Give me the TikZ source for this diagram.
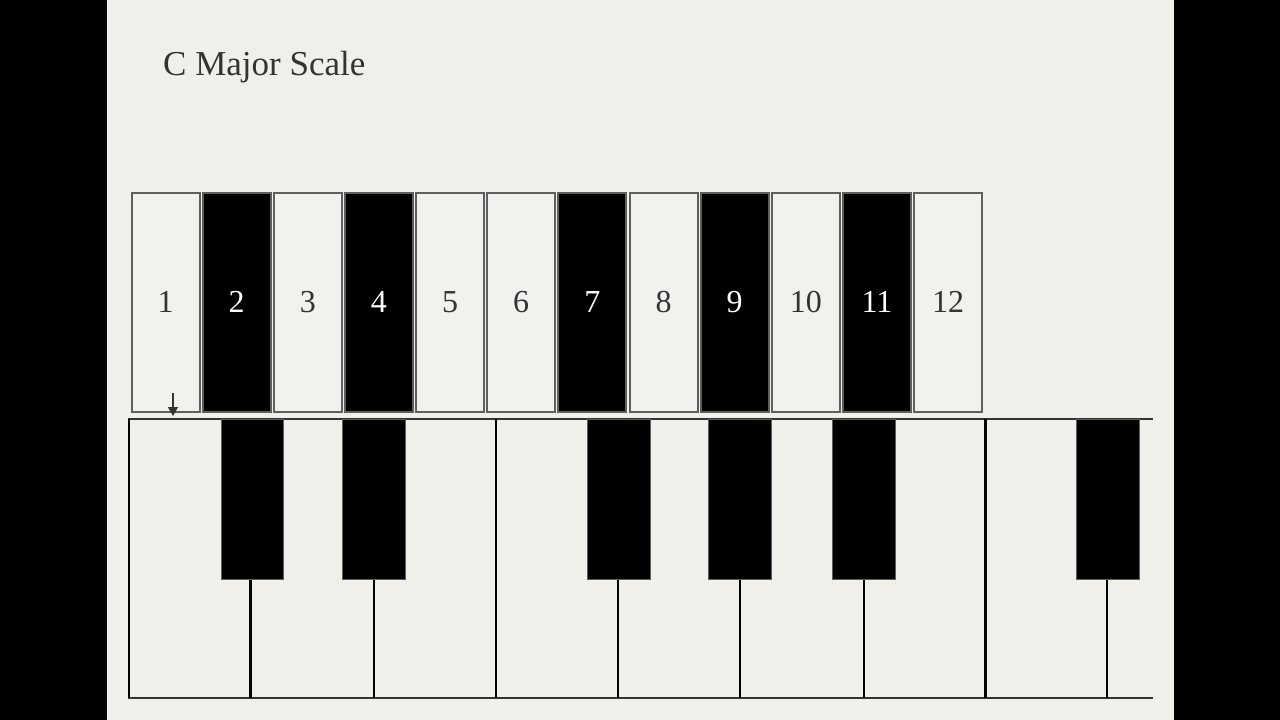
\documentclass[tikz,border=0pt]{standalone}
\usepackage{fontspec}
\setmainfont{Liberation Serif}
\usetikzlibrary{arrows.meta}
\definecolor{slide}{HTML}{F1EFEA}
\definecolor{cellfill}{HTML}{F3F1ED}
\definecolor{cellline}{HTML}{5E5E5E}
\definecolor{ink}{HTML}{333333}
\tikzset{
  cell/.style={draw=cellline, line width=2, minimum width=68, minimum height=219, inner sep=0, font=\fontsize{32}{40}\selectfont},
  whitecell/.style={cell, fill=cellfill, text=ink},
  blackcell/.style={cell, fill=black, text=white},
  keyline/.style={draw=ink, line width=2},
  keydivider/.style={draw=black, line width=2.6},
  blackkey/.style={draw=cellline, line width=1, fill=black},
}
\begin{document}
\begin{tikzpicture}[x=1pt, y=-1pt]
      \useasboundingbox (0,0) rectangle (1280,720);
      \fill[black] (0,0) rectangle (1280,720);
      \fill[slide] (107,0) rectangle (1174,720);
      \node[anchor=base west, inner sep=0, text=ink, font=\fontsize{35}{40}\selectfont] (title) at (163,75) {C Major Scale};
      % the twelve semitones
      \node[whitecell] (s1) at (165.5,302) {1};
      \node[blackcell] (s2) at (236.6,302) {2};
      \node[whitecell] (s3) at (307.8,302) {3};
      \node[blackcell] (s4) at (378.9,302) {4};
      \node[whitecell] (s5) at (450.1,302) {5};
      \node[whitecell] (s6) at (521.2,302) {6};
      \node[blackcell] (s7) at (592.3,302) {7};
      \node[whitecell] (s8) at (663.5,302) {8};
      \node[blackcell] (s9) at (734.6,302) {9};
      \node[whitecell] (s10) at (805.8,302) {10};
      \node[blackcell] (s11) at (876.9,302) {11};
      \node[whitecell] (s12) at (948,302) {12};
      % keyboard
      \draw[keyline] (128,419) -- (1153,419);
      \draw[keyline] (128,697.5) -- (1153,697.5);
      \draw[keydivider] (129,419) -- (129,697.5);
      \draw[keydivider] (250.5,419) -- (250.5,697.5);
      \draw[keydivider] (374,419) -- (374,697.5);
      \draw[keydivider] (496,419) -- (496,697.5);
      \draw[keydivider] (618,419) -- (618,697.5);
      \draw[keydivider] (740,419) -- (740,697.5);
      \draw[keydivider] (864,419) -- (864,697.5);
      \draw[keydivider] (985.5,419) -- (985.5,697.5);
      \draw[keydivider] (1107,419) -- (1107,697.5);
      \draw[blackkey] (221,419) rectangle (283,579);
      \draw[blackkey] (342.5,419) rectangle (405,579);
      \draw[blackkey] (587,419) rectangle (650,579);
      \draw[blackkey] (708.5,419) rectangle (771,579);
      \draw[blackkey] (832,419) rectangle (895,579);
      \draw[blackkey] (1076.5,419) rectangle (1139,579);
      % start note
      \coordinate (start) at (173,393);
      \coordinate (keytop) at (173,416);
      \draw[ink, line width=1.5, -{Triangle[length=9pt,width=10pt]}] (start) -- (keytop);
    \end{tikzpicture}
\end{document}
